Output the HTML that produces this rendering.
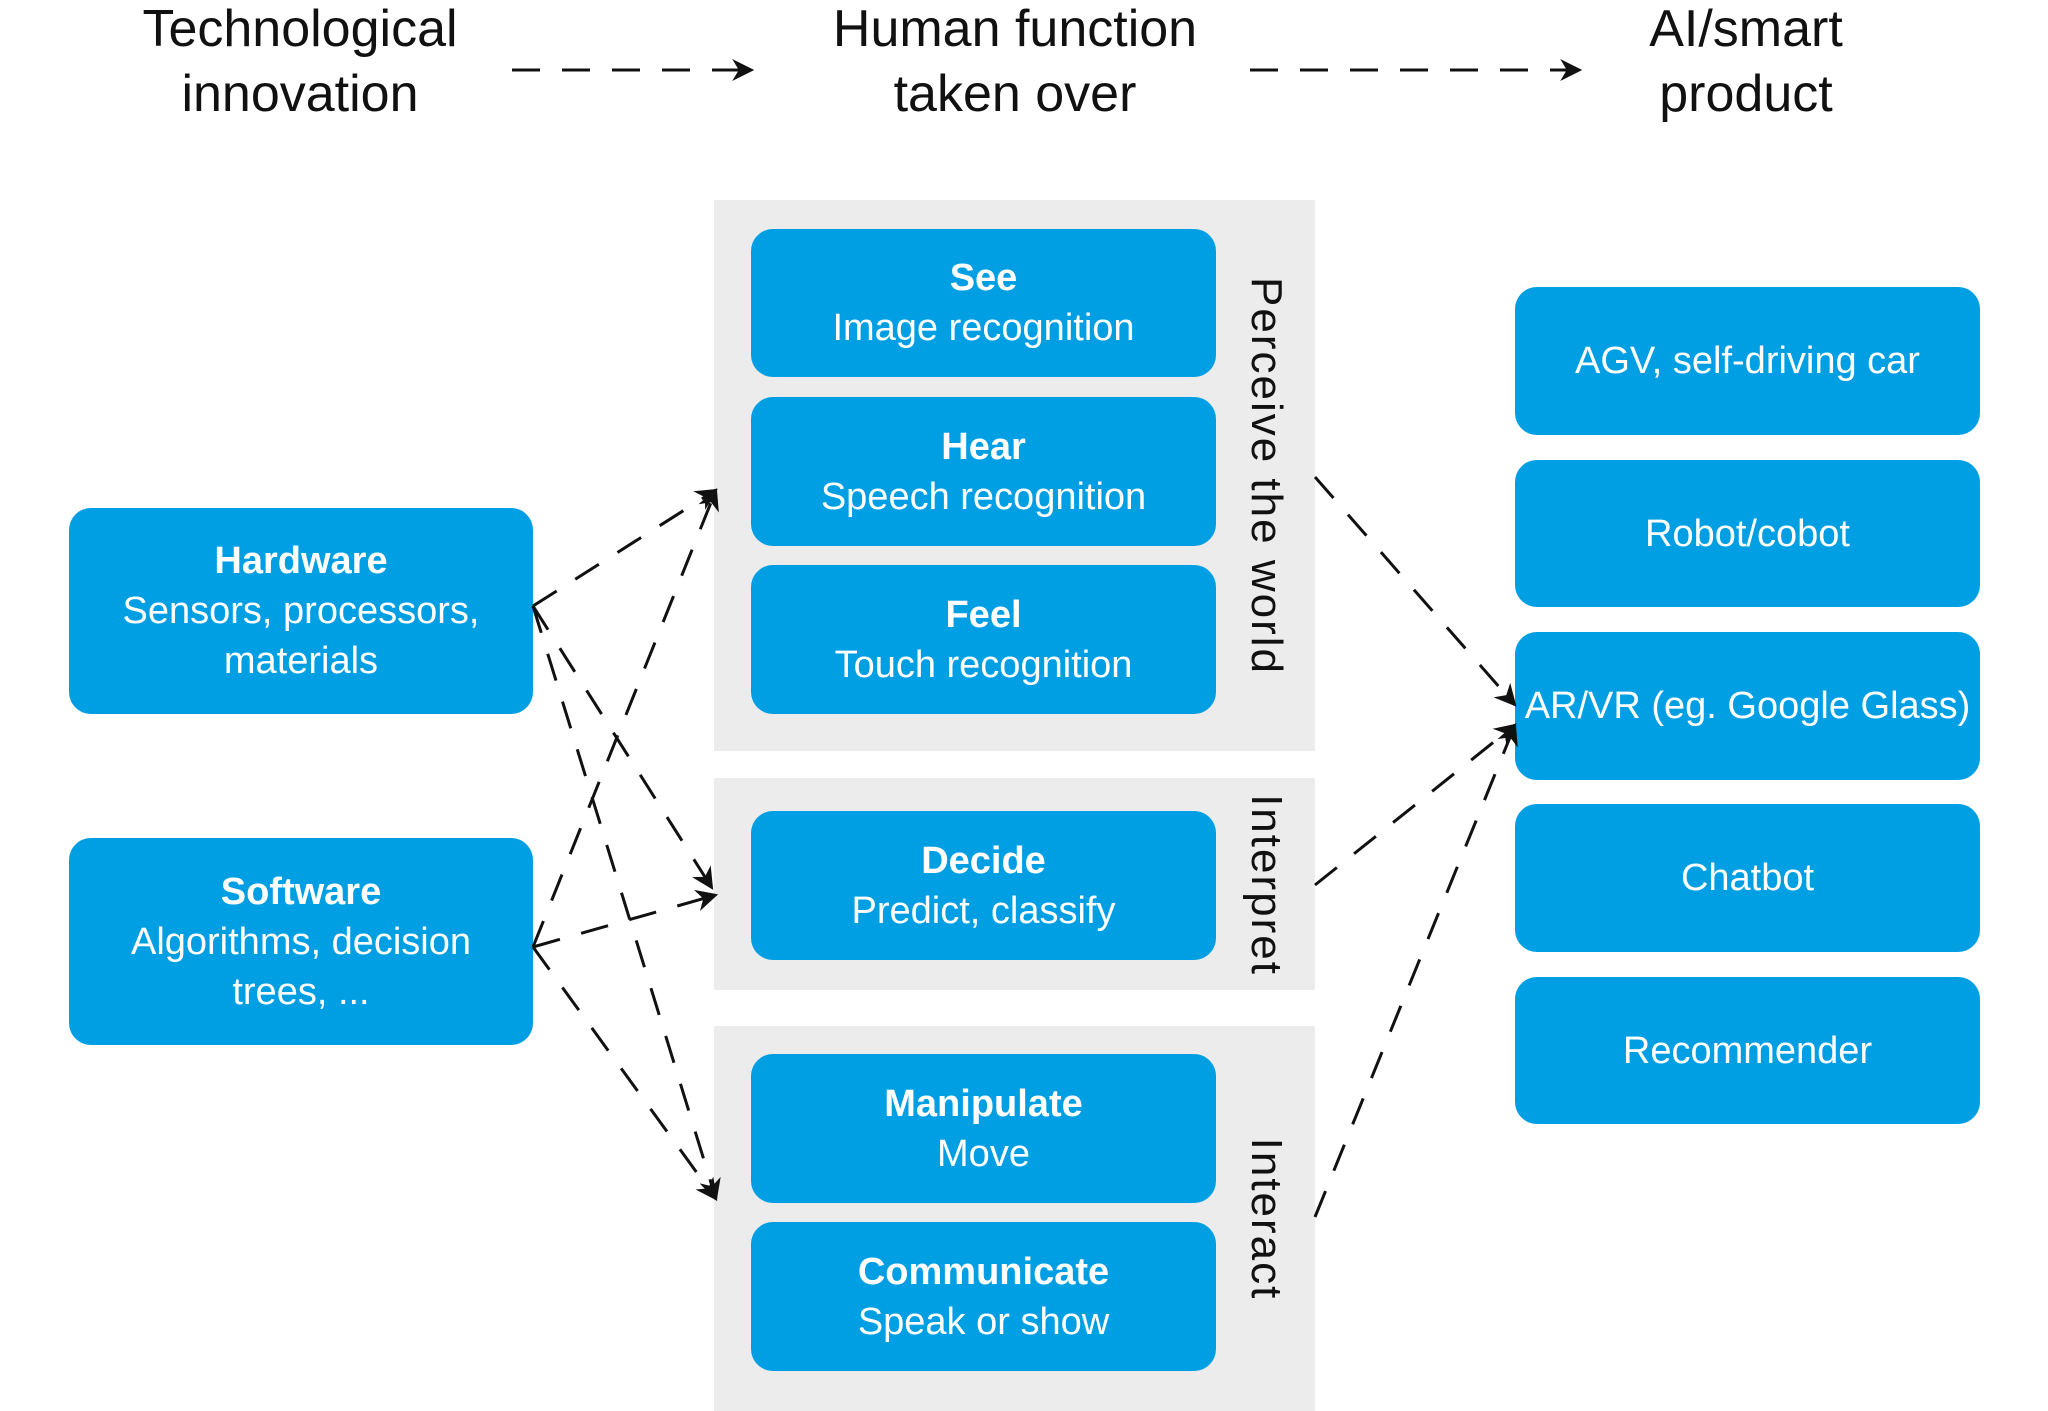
<!DOCTYPE html>
<html><head><meta charset="utf-8"><style>
body{margin:0;width:2048px;height:1411px;background:#fff;position:relative;overflow:hidden;font-family:"Liberation Sans",sans-serif;}
.h{position:absolute;text-align:center;font-size:52px;line-height:65px;color:#111;width:500px;}
.p{position:absolute;background:#ececec;}
.b{position:absolute;background:#009fe3;border-radius:22px;color:#fff;display:flex;flex-direction:column;justify-content:center;align-items:center;text-align:center;font-size:38px;line-height:50px;}
.b b{font-weight:bold;}
.v{position:absolute;font-size:44px;letter-spacing:2px;color:#111;transform:translate(-50%,-50%) rotate(90deg);white-space:nowrap;}
svg{position:absolute;left:0;top:0;}
</style></head><body>
<div class="h" style="left:50px;top:-3px">Technological<br>innovation</div>
<div class="h" style="left:765px;top:-3px">Human function<br>taken over</div>
<div class="h" style="left:1496px;top:-3px">AI/smart<br>product</div>

<div class="p" style="left:714px;top:200px;width:601px;height:551px"></div>
<div class="p" style="left:714px;top:778px;width:601px;height:212px"></div>
<div class="p" style="left:714px;top:1026px;width:601px;height:385px"></div>

<div class="b" style="left:69px;top:508px;width:464px;height:206px"><b>Hardware</b>Sensors, processors,<br>materials</div>
<div class="b" style="left:69px;top:838px;width:464px;height:207px"><b>Software</b>Algorithms, decision<br>trees, ...</div>

<div class="b" style="left:751px;top:229px;width:465px;height:148px"><b>See</b>Image recognition</div>
<div class="b" style="left:751px;top:397px;width:465px;height:149px"><b>Hear</b>Speech recognition</div>
<div class="b" style="left:751px;top:565px;width:465px;height:149px"><b>Feel</b>Touch recognition</div>
<div class="b" style="left:751px;top:811px;width:465px;height:149px"><b>Decide</b>Predict, classify</div>
<div class="b" style="left:751px;top:1054px;width:465px;height:149px"><b>Manipulate</b>Move</div>
<div class="b" style="left:751px;top:1222px;width:465px;height:149px"><b>Communicate</b>Speak or show</div>

<div class="v" style="left:1266px;top:476px">Perceive the world</div>
<div class="v" style="left:1266px;top:885px">Interpret</div>
<div class="v" style="left:1266px;top:1219px">Interact</div>

<div class="b" style="left:1515px;top:287px;width:465px;height:148px">AGV, self-driving car</div>
<div class="b" style="left:1515px;top:460px;width:465px;height:147px">Robot/cobot</div>
<div class="b" style="left:1515px;top:632px;width:465px;height:148px">AR/VR (eg. Google Glass)</div>
<div class="b" style="left:1515px;top:804px;width:465px;height:148px">Chatbot</div>
<div class="b" style="left:1515px;top:977px;width:465px;height:147px">Recommender</div>

<svg width="2048" height="1411">
<defs>
<marker id="s" viewBox="0 0 10 10" refX="9" refY="5" markerWidth="22" markerHeight="22" orient="auto" markerUnits="userSpaceOnUse"><path d="M0,0 L10,5 L0,10 L3,5 z" fill="#111"/></marker></defs>
<g stroke="#111" stroke-width="3" stroke-dasharray="28,22" fill="none">
<line x1="512" y1="70" x2="752" y2="70" marker-end="url(#s)"/>
<line x1="1250" y1="70" x2="1580" y2="70" marker-end="url(#s)"/>
<line x1="533" y1="606" x2="716" y2="490" marker-end="url(#s)"/>
<line x1="533" y1="947" x2="716" y2="490" marker-end="url(#s)"/>
<line x1="533" y1="606" x2="712" y2="888" marker-end="url(#s)"/>
<line x1="533" y1="947" x2="716" y2="895" marker-end="url(#s)"/>
<line x1="533" y1="606" x2="716" y2="1199" marker-end="url(#s)"/>
<line x1="533" y1="947" x2="716" y2="1199" marker-end="url(#s)"/>
<line x1="1315" y1="477" x2="1515" y2="705" marker-end="url(#s)"/>
<line x1="1315" y1="885" x2="1515" y2="725" marker-end="url(#s)"/>
<line x1="1315" y1="1217" x2="1515" y2="725" marker-end="url(#s)"/>
</g>
</svg>
</body></html>
